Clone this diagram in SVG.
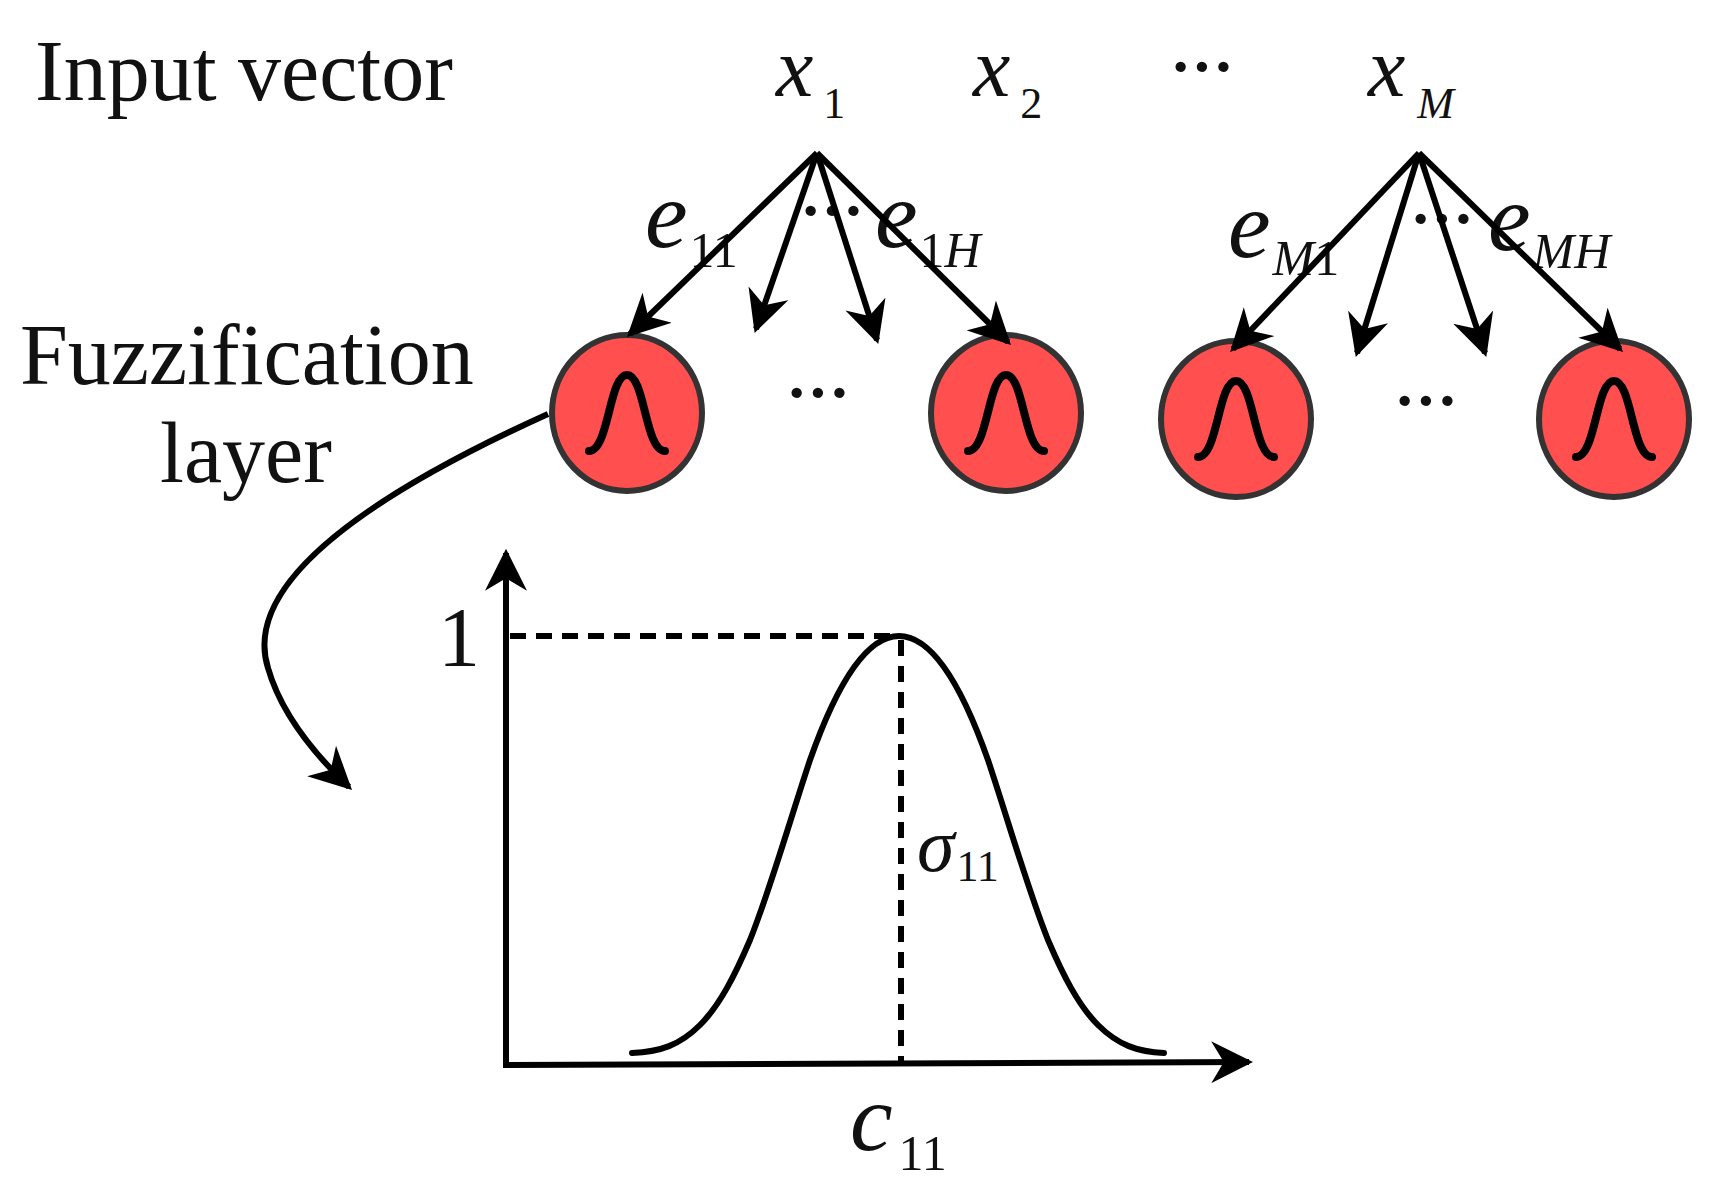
<svg xmlns="http://www.w3.org/2000/svg" width="1710" height="1192" viewBox="0 0 1710 1192">
<style>
.t{font-family:"Liberation Serif",serif;fill:#111}
.v{font-family:"Liberation Serif",serif;font-style:italic;fill:#111}
.dt{font-family:"Liberation Serif",serif;font-weight:bold;fill:#111}
.n{fill:#ff4f4f;stroke:#333;stroke-width:6}
.g{fill:none;stroke:#000;stroke-width:8;stroke-linecap:round}
.c{fill:none;stroke:#000;stroke-width:6}
.d{fill:none;stroke:#000;stroke-width:6;stroke-dasharray:16 10}
</style>
<defs>
<marker id="b" viewBox="0 0 10 10" refX="9" refY="5" markerWidth="7" markerHeight="7" orient="auto"><path d="M0,0 L10,5 L0,10 L3,5 z" fill="#000"/></marker>
<path id="lam" d="M-38,38 C-18,38 -18,-38 0,-38 C18,-38 18,38 38,38"/>
</defs>
<text class="t" x="35" y="100" font-size="86">Input vector</text>
<text class="t" x="20" y="384" font-size="86">Fuzzification</text>
<text class="t" x="160" y="482" font-size="86">layer</text>
<text class="v" x="776" y="96" font-size="84">x<tspan font-size="44" font-style="normal" dx="10" dy="22">1</tspan></text>
<text class="v" x="973" y="96" font-size="84">x<tspan font-size="44" font-style="normal" dx="10" dy="22">2</tspan></text>
<text class="dt" x="1170" y="88" font-size="64">···</text>
<text class="v" x="1368" y="96" font-size="84">x<tspan font-size="44" dx="12" dy="22">M</tspan></text>
<text class="v" x="645" y="247" font-size="96">e<tspan font-size="50" font-style="normal" dx="2" dy="20">11</tspan></text>
<text class="v" x="875" y="247" font-size="96">e<tspan font-size="50" font-style="normal" dx="2" dy="20">1</tspan><tspan font-size="50">H</tspan></text>
<text class="dt" x="800" y="232" font-size="64">···</text>
<text class="v" x="1228" y="257" font-size="96">e<tspan font-size="50" dx="2" dy="18">M</tspan><tspan font-size="50" font-style="normal">1</tspan></text>
<text class="v" x="1488" y="250" font-size="96">e<tspan font-size="50" dx="2" dy="18">MH</tspan></text>
<text class="dt" x="1410" y="240" font-size="64">···</text>
<text class="dt" x="786" y="414" font-size="64">···</text>
<text class="dt" x="1394" y="422" font-size="64">···</text>
<g id="n1"><ellipse class="n" cx="627" cy="413" rx="75" ry="78"/><use href="#lam" x="627" y="413" class="g"/></g>
<g id="n2"><ellipse class="n" cx="1006" cy="413" rx="75" ry="78"/><use href="#lam" x="1006" y="413" class="g"/></g>
<g id="n3"><ellipse class="n" cx="1236" cy="419" rx="75" ry="78"/><use href="#lam" x="1236" y="419" class="g"/></g>
<g id="n4"><ellipse class="n" cx="1614" cy="419" rx="75" ry="78"/><use href="#lam" x="1614" y="419" class="g"/></g>
<g id="connectors" class="c">
<path d="M817,153 L630,334" marker-end="url(#b)"/>
<path d="M817,153 L756,329" marker-end="url(#b)"/>
<path d="M817,153 L877,340" marker-end="url(#b)"/>
<path d="M817,153 L1008,342" marker-end="url(#b)"/>
<path d="M1419,153 L1233,349" marker-end="url(#b)"/>
<path d="M1419,153 L1357,353" marker-end="url(#b)"/>
<path d="M1419,153 L1485,353" marker-end="url(#b)"/>
<path d="M1419,153 L1620,349" marker-end="url(#b)"/>
<path d="M548,414 C380,490 240,580 268,668 C280,710 310,750 349,787" marker-end="url(#b)"/>
</g>
<g id="chart">
<path class="c" d="M506,1065 L506,553" marker-end="url(#b)"/>
<path class="c" d="M503,1065 L1249,1062" marker-end="url(#b)"/>
<path class="d" d="M510,636 L899,636"/>
<path class="d" d="M901,640 L901,1062"/>
<path class="c" stroke-linecap="round" d="M632,1053 C660,1052 680,1045 700,1025 C720,1005 735,975 750,940 C770,890 790,820 810,760 C840,675 870,636 899,636 C928,636 958,675 988,760 C1008,820 1028,890 1048,940 C1063,975 1078,1005 1098,1025 C1118,1045 1138,1052 1164,1053"/>
<text class="t" x="438" y="666" font-size="84">1</text>
<text class="v" x="917" y="871" font-size="76">σ<tspan font-size="44" font-style="normal" dx="2" dy="10">11</tspan></text>
<text class="v" x="850" y="1150" font-size="96">c<tspan font-size="50" font-style="normal" dx="6" dy="20">11</tspan></text>
</g>
</svg>
